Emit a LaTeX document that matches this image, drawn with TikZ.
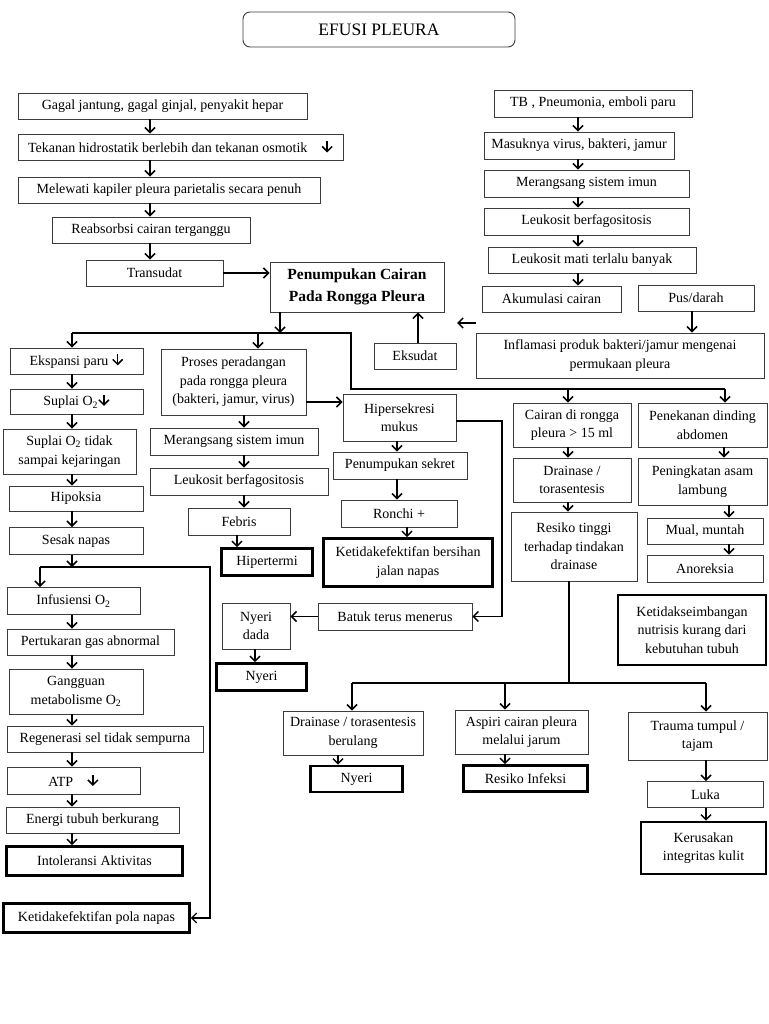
\documentclass[tikz,border=0pt]{standalone}
\usepackage{fontspec}
\setmainfont{Liberation Serif}
\usepackage{tikz}
\usetikzlibrary{shapes.geometric, arrows, arrows.meta}
\definecolor{garis}{RGB}{60,60,60}
\tikzstyle{kotak} = [rectangle, draw=garis, line width=0.9pt, align=center, inner sep=1pt, font=\fontsize{14}{18.5}\selectfont]
\tikzstyle{kotaktebal} = [kotak, draw=black, line width=2.6pt]
\tikzstyle{judul} = [kotak, rounded corners=7pt, font=\fontsize{17.5}{20}\selectfont]
\tikzstyle{arrow} = [line width=1.5pt, ->, >={Straight Barb[length=5pt,width=10pt]}]
\tikzstyle{garisan} = [line width=1.5pt]
\newcommand{\turun}{\tikz[baseline=0pt]\draw[arrow] (0,11pt) -- (0,0pt);}
\newcommand{\Od}{O\textsubscript{2}}

\begin{document}
\begin{tikzpicture}[x=1pt,y=-1pt]
\useasboundingbox (0,0) rectangle (768,1024);
\fill[white] (0,0) rectangle (768,1024);
\node (judul) [judul, minimum width=272, minimum height=35] at (379,29.5) {EFUSI PLEURA};
\node (gagal) [kotak, minimum width=289, minimum height=26] at (162.5,106) {Gagal jantung, gagal ginjal, penyakit hepar};
\node (tekanan) [kotak, minimum width=325, minimum height=26] at (180.5,147) {Tekanan hidrostatik berlebih dan tekanan osmotik\quad\turun};
\node (melewati) [kotak, minimum width=302, minimum height=26] at (169,190) {Melewati kapiler pleura parietalis secara penuh};
\node (reabsorbsi) [kotak, minimum width=198, minimum height=26] at (151,230) {Reabsorbsi cairan terganggu};
\node (transudat) [kotak, minimum width=137, minimum height=26] at (154.5,273) {Transudat};
\node (penumpukan) [kotak, minimum width=174, minimum height=50, font=\fontsize{15.5}{22}\selectfont\bfseries] at (357,287) {Penumpukan Cairan\\Pada Rongga Pleura};
\node (eksudat) [kotak, minimum width=82, minimum height=26] at (415,356) {Eksudat};
\node (tb) [kotak, minimum width=198, minimum height=27] at (593,103.5) {TB , Pneumonia, emboli paru};
\node (masuk) [kotak, minimum width=190, minimum height=27] at (579,145.5) {Masuknya virus, bakteri, jamur};
\node (imunKanan) [kotak, minimum width=205, minimum height=27] at (586.5,183.5) {Merangsang sistem imun};
\node (leukoKanan) [kotak, minimum width=205, minimum height=27] at (586.5,221.5) {Leukosit berfagositosis};
\node (mati) [kotak, minimum width=208, minimum height=26] at (592,260) {Leukosit mati terlalu banyak};
\node (akumulasi) [kotak, minimum width=139, minimum height=26] at (551.5,299) {Akumulasi cairan};
\node (pus) [kotak, minimum width=116, minimum height=26] at (696,298) {Pus/darah};
\node (inflamasi) [kotak, minimum width=288, minimum height=45] at (620,355.5) {Inflamasi produk bakteri/jamur mengenai\\permukaan pleura};
\node (ekspansi) [kotak, minimum width=133, minimum height=26] at (76.5,361) {Ekspansi paru \turun};
\node (suplai) [kotak, minimum width=133, minimum height=25] at (76.5,401.5) {Suplai \Od\turun};
\node (suplaiTidak) [kotak, minimum width=133, minimum height=45] at (69.5,451.5) {Suplai \Od{} tidak\\sampai kejaringan};
\node (hipoksia) [kotak, minimum width=134, minimum height=25] at (76,498.5) {Hipoksia};
\node (sesak) [kotak, minimum width=134, minimum height=27] at (76,541) {Sesak napas};
\node (infusiensi) [kotak, minimum width=133, minimum height=27] at (73.5,601) {Infusiensi \Od};
\node (pertukaran) [kotak, minimum width=167, minimum height=26] at (90.5,642) {Pertukaran gas abnormal};
\node (gangguan) [kotak, minimum width=134, minimum height=45] at (76,691.5) {Gangguan\\metabolisme \Od};
\node (regenerasi) [kotak, minimum width=196, minimum height=26] at (105,739) {Regenerasi sel tidak sempurna};
\node (atp) [kotak, minimum width=133, minimum height=27] at (73.5,780.5) {ATP\quad\turun};
\node (energi) [kotak, minimum width=173, minimum height=26] at (92.5,820) {Energi tubuh berkurang};
\node (intoleransi) [kotaktebal, minimum width=176, minimum height=29] at (94.5,861) {Intoleransi Aktivitas};
\node (pola) [kotaktebal, minimum width=186, minimum height=29] at (96.5,918) {Ketidakefektifan pola napas};
\node (proses) [kotak, minimum width=145, minimum height=66] at (233.5,382) {Proses peradangan\\pada rongga pleura\\(bakteri, jamur, virus)};
\node (imunTengah) [kotak, minimum width=168, minimum height=27] at (234,441.5) {Merangsang sistem imun};
\node (leukoTengah) [kotak, minimum width=178, minimum height=27] at (239,481.5) {Leukosit berfagositosis};
\node (febris) [kotak, minimum width=102, minimum height=27] at (239,521.5) {Febris};
\node (hipertermi) [kotaktebal, minimum width=91, minimum height=27] at (267,562) {Hipertermi};
\node (hiper) [kotak, minimum width=113, minimum height=47] at (399.5,417.5) {Hipersekresi\\mukus};
\node (sekret) [kotak, minimum width=134, minimum height=27] at (400,465.5) {Penumpukan sekret};
\node (ronchi) [kotak, minimum width=116, minimum height=27] at (399,513.5) {Ronchi +};
\node (bersihan) [kotaktebal, minimum width=169, minimum height=48] at (408,562.5) {Ketidakefektifan bersihan\\jalan napas};
\node (batuk) [kotak, minimum width=154, minimum height=27] at (395,616.5) {Batuk terus menerus};
\node (nyeriDada) [kotak, minimum width=68, minimum height=46] at (256,626) {Nyeri\\dada};
\node (nyeri) [kotaktebal, minimum width=90, minimum height=27] at (261.5,677) {Nyeri};
\node (cairan) [kotak, minimum width=118, minimum height=44] at (572,425) {Cairan di rongga\\pleura > 15 ml};
\node (drainase) [kotak, minimum width=118, minimum height=44] at (572,480) {Drainase /\\torasentesis};
\node (resiko) [kotak, minimum width=126, minimum height=69] at (574,546.5) {Resiko tinggi\\terhadap tindakan\\drainase};
\node (penekanan) [kotak, minimum width=129, minimum height=44] at (702.5,425) {Penekanan dinding\\abdomen};
\node (asam) [kotak, minimum width=129, minimum height=47] at (702.5,481.5) {Peningkatan asam\\lambung};
\node (mual) [kotak, minimum width=116, minimum height=26] at (705,531) {Mual, muntah};
\node (anoreksia) [kotak, minimum width=116, minimum height=27] at (705,568.5) {Anoreksia};
\node (nutrisi) [kotaktebal, minimum width=148, minimum height=70] at (692,630) {Ketidakseimbangan\\nutrisis kurang dari\\kebutuhan tubuh};
\node (berulang) [kotak, minimum width=140, minimum height=44] at (353,733) {Drainase / torasentesis\\berulang};
\node (nyeriBawah) [kotaktebal, minimum width=92, minimum height=26] at (356.5,779) {Nyeri};
\node (aspiri) [kotak, minimum width=133, minimum height=44] at (521.5,732) {Aspiri cairan pleura\\melalui jarum};
\node (infeksi) [kotaktebal, minimum width=124, minimum height=26] at (525.5,778.5) {Resiko Infeksi};
\node (trauma) [kotak, minimum width=139, minimum height=48] at (697.5,736) {Trauma tumpul /\\tajam};
\node (luka) [kotak, minimum width=116, minimum height=26] at (705.5,794.5) {Luka};
\node (kerusakan) [kotaktebal, minimum width=125, minimum height=52] at (703.5,848) {Kerusakan\\integritas kulit};
\coordinate (xa) at (150,0);
\coordinate (xb) at (578,0);
\coordinate (xl) at (72,0);
\coordinate (xm) at (244,0);
\coordinate (xk) at (568,0);
\coordinate (xp) at (724,0);
\coordinate (xq) at (729,0);
\coordinate (xt) at (706,0);
\draw[arrow] (gagal.south -| xa) -- (tekanan.north -| xa);
\draw[arrow] (tekanan.south -| xa) -- (melewati.north -| xa);
\draw[arrow] (melewati.south -| xa) -- (reabsorbsi.north -| xa);
\draw[arrow] (reabsorbsi.south -| xa) -- (transudat.north -| xa);
\draw[arrow] (transudat.east) -- (transudat.east -| penumpukan.west);
\draw[arrow] (tb.south -| xb) -- (masuk.north -| xb);
\draw[arrow] (masuk.south -| xb) -- (imunKanan.north -| xb);
\draw[arrow] (imunKanan.south -| xb) -- (leukoKanan.north -| xb);
\draw[arrow] (leukoKanan.south -| xb) -- (mati.north -| xb);
\draw[arrow] (mati.south -| xb) -- (akumulasi.north -| xb);
\coordinate (xpus) at (692,0);
\draw[arrow] (pus.south -| xpus) -- (inflamasi.north -| xpus);
\coordinate (bebas) at (457,323);
\draw[arrow] (inflamasi.north west |- bebas) -- (bebas);
\coordinate (xe) at (418,0);
\draw[arrow] (eksudat.north -| xe) -- (penumpukan.south -| xe);
\coordinate (c1) at (72,333);
\coordinate (c2) at (351,389);
\coordinate (c3) at (725,389);
\coordinate (cp) at (280,333);
\coordinate (kolP) at (258,333);
\coordinate (kolC) at (568,389);
\draw[arrow] (penumpukan.south -| cp) -- (cp);
\draw[garisan] (c1) -| (c2) -- (c3);
\draw[arrow] (c1) -- (c1 |- ekspansi.north);
\draw[arrow] (kolP) -- (kolP |- proses.north);
\draw[arrow] (kolC) -- (kolC |- cairan.north);
\draw[arrow] (c3) -- (c3 |- penekanan.north);
\draw[arrow] (ekspansi.south -| xl) -- (suplai.north -| xl);
\draw[arrow] (suplai.south -| xl) -- (suplaiTidak.north -| xl);
\draw[arrow] (suplaiTidak.south -| xl) -- (hipoksia.north -| xl);
\draw[arrow] (hipoksia.south -| xl) -- (sesak.north -| xl);
\coordinate (c4) at (72,567);
\coordinate (c5) at (40,567);
\coordinate (c6) at (210,567);
\draw[arrow] (sesak.south -| c4) -- (c4);
\draw[arrow, line width=1.3pt] (c5) -- (c6) |- (pola.east);
\draw[arrow] (c5) -- (c5 |- infusiensi.north);
\draw[arrow] (infusiensi.south -| xl) -- (pertukaran.north -| xl);
\draw[arrow] (pertukaran.south -| xl) -- (gangguan.north -| xl);
\draw[arrow] (gangguan.south -| xl) -- (regenerasi.north -| xl);
\draw[arrow] (regenerasi.south -| xl) -- (atp.north -| xl);
\draw[arrow] (atp.south -| xl) -- (energi.north -| xl);
\draw[arrow] (energi.south -| xl) -- (intoleransi.north -| xl);
\draw[arrow] (proses.south -| xm) -- (imunTengah.north -| xm);
\draw[arrow] (imunTengah.south -| xm) -- (leukoTengah.north -| xm);
\draw[arrow] (leukoTengah.south -| xm) -- (febris.north -| xm);
\coordinate (xf) at (237,0);
\draw[arrow] (febris.south -| xf) -- (hipertermi.north -| xf);
\coordinate (yh) at (0,402);
\draw[arrow] (proses.east |- yh) -- (hiper.west |- yh);
\coordinate (xh1) at (397,0);
\coordinate (xh2) at (407,0);
\draw[arrow] (hiper.south -| xh1) -- (sekret.north -| xh1);
\draw[arrow] (sekret.south -| xh1) -- (ronchi.north -| xh1);
\draw[arrow] (ronchi.south -| xh2) -- (bersihan.north -| xh2);
\coordinate (c7) at (502,421);
\draw[arrow, line width=1.3pt] (hiper.east |- c7) -- (c7) |- (batuk.east);
\draw[arrow] (batuk.west) -- (batuk.west -| nyeriDada.east);
\coordinate (xn) at (255,0);
\draw[arrow] (nyeriDada.south -| xn) -- (nyeri.north -| xn);
\draw[arrow] (cairan.south -| xk) -- (drainase.north -| xk);
\draw[arrow] (drainase.south -| xk) -- (resiko.north -| xk);
\draw[arrow] (penekanan.south -| xp) -- (asam.north -| xp);
\draw[arrow] (asam.south -| xq) -- (mual.north -| xq);
\draw[arrow] (mual.south -| xq) -- (anoreksia.north -| xq);
\coordinate (c8) at (352,683);
\coordinate (c9) at (706,683);
\coordinate (ca) at (505,683);
\coordinate (xr) at (569,0);
\draw[garisan] (resiko.south -| xr) -- (xr |- c8);
\draw[garisan] (c8) -- (c9);
\draw[arrow] (c8) -- (c8 |- berulang.north);
\draw[arrow] (ca) -- (ca |- aspiri.north);
\draw[arrow] (c9) -- (c9 |- trauma.north);
\coordinate (xd) at (338,0);
\draw[arrow] (berulang.south -| xd) -- (nyeriBawah.north -| xd);
\draw[arrow] (aspiri.south -| ca) -- (infeksi.north -| ca);
\draw[arrow] (trauma.south -| xt) -- (luka.north -| xt);
\draw[arrow] (luka.south -| xt) -- (kerusakan.north -| xt);
\end{tikzpicture}
\end{document}
